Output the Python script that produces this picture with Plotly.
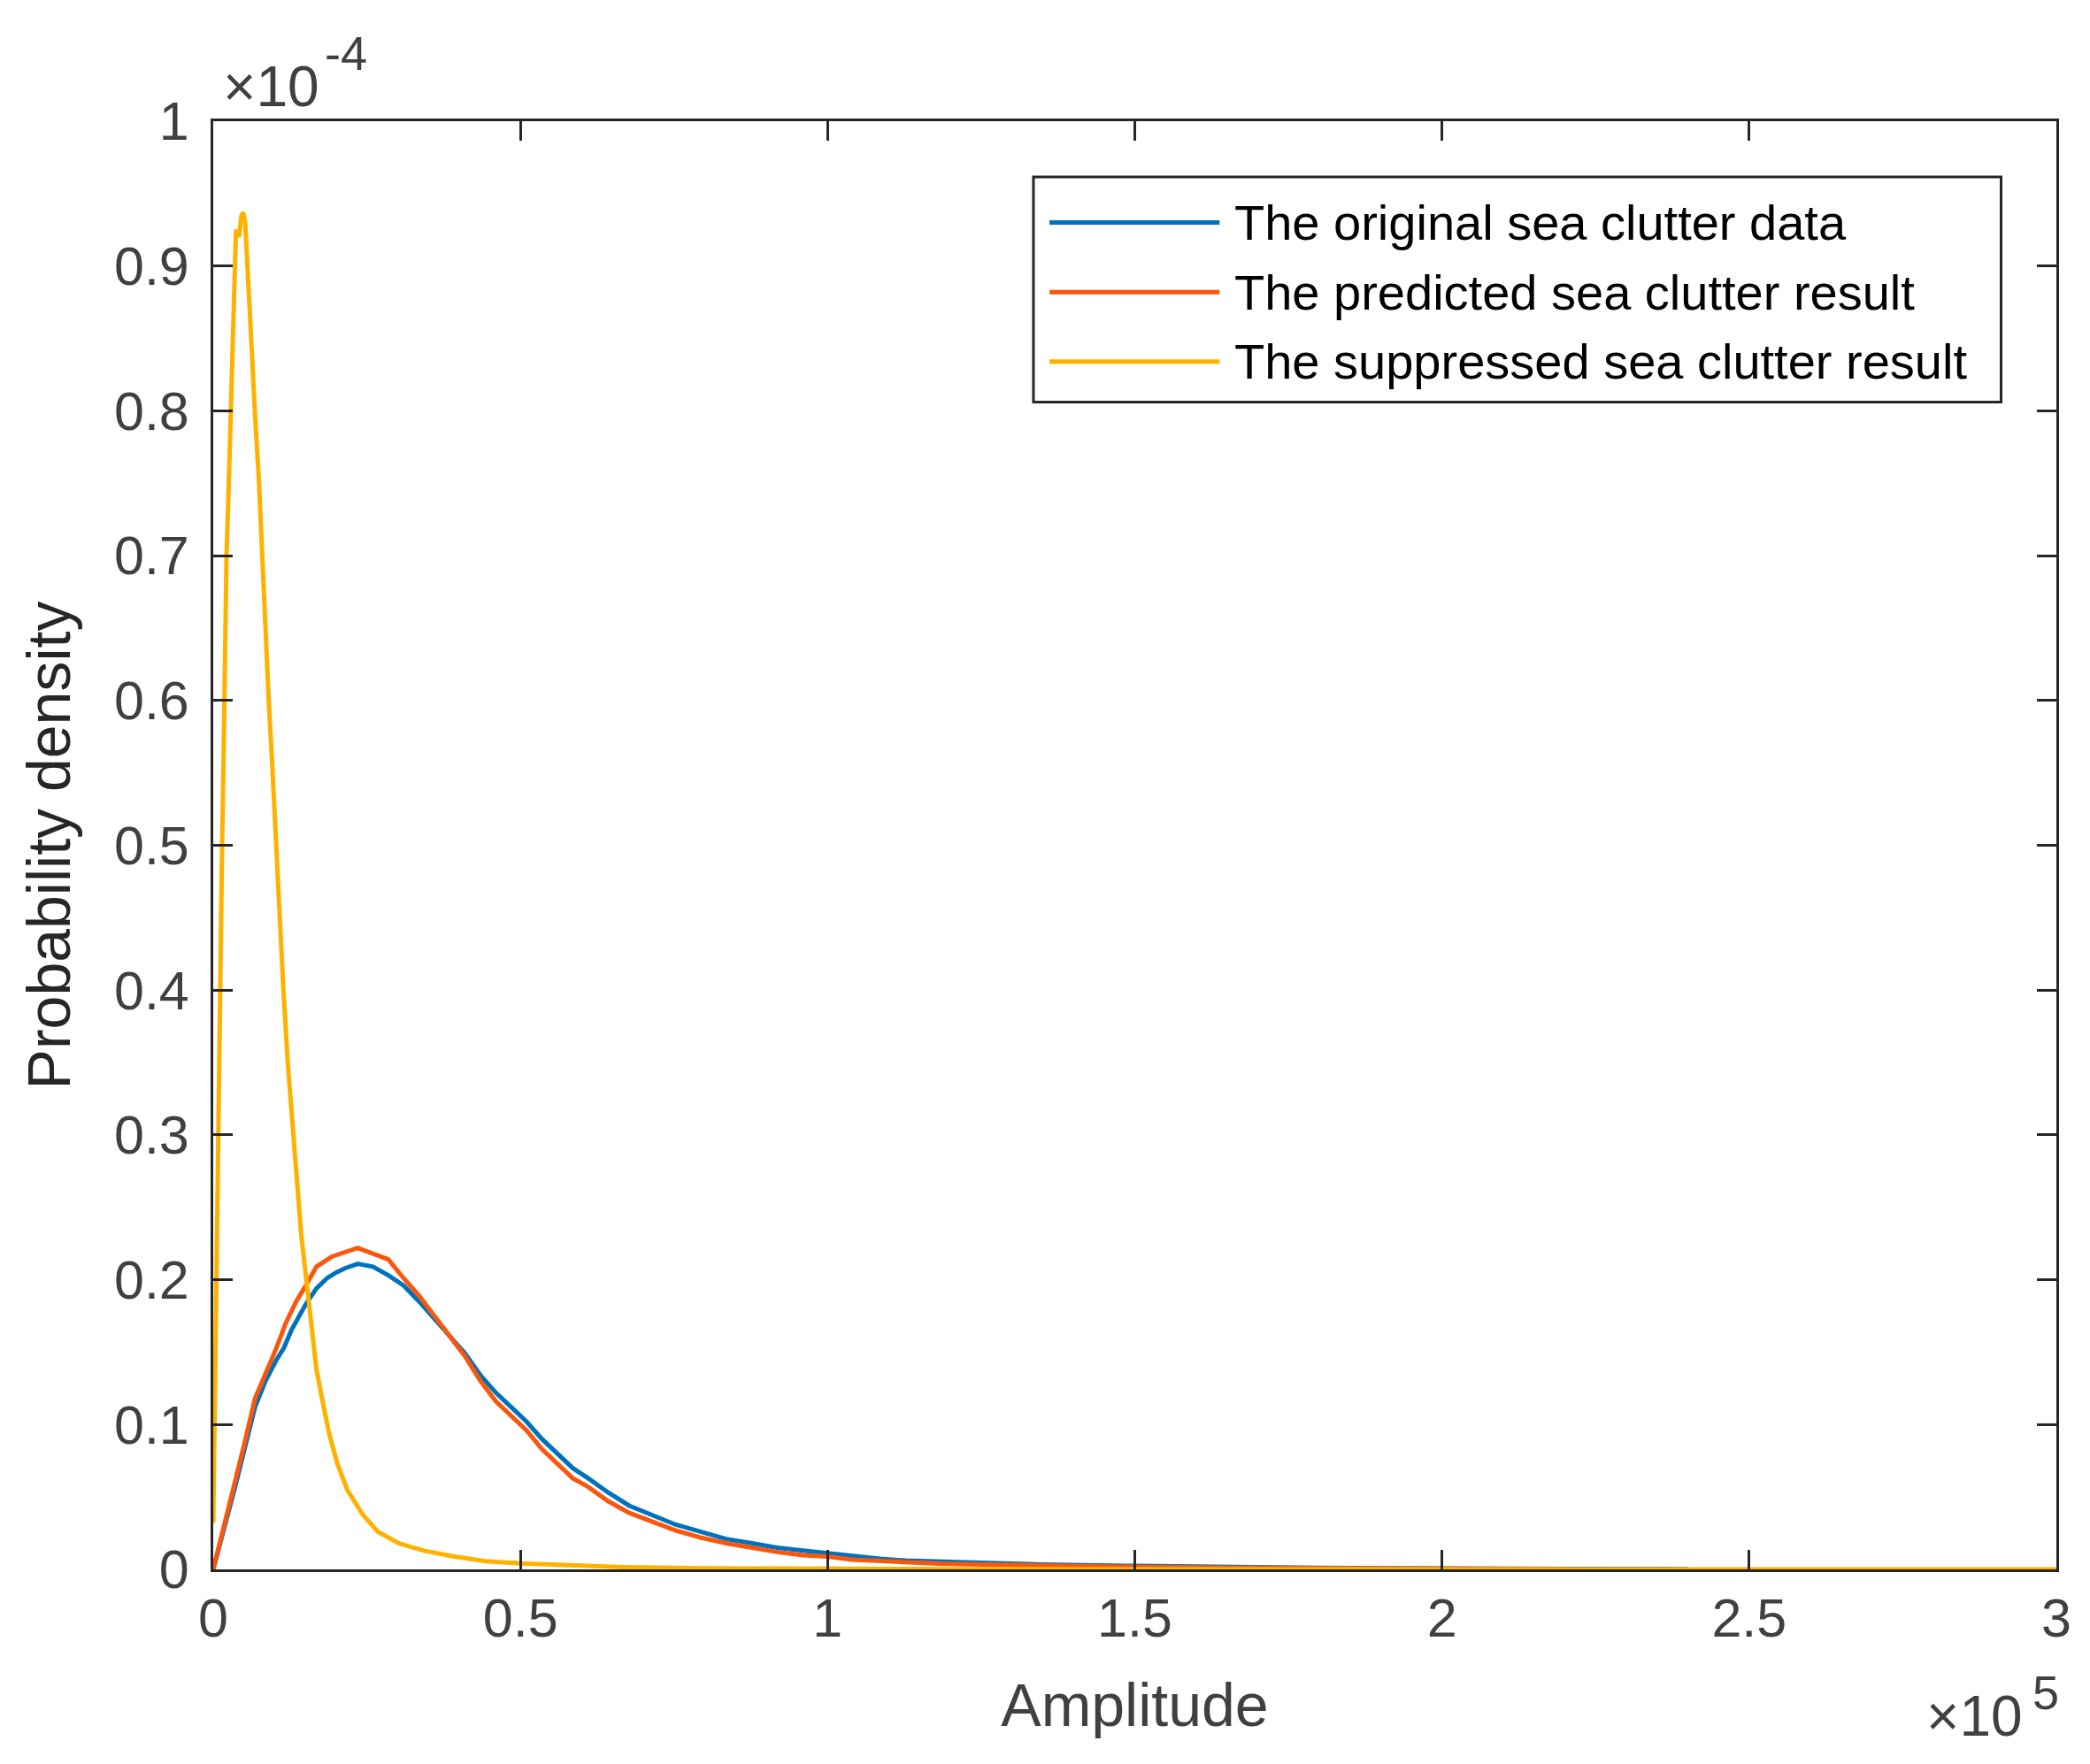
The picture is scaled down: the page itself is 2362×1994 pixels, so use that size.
import plotly.graph_objects as go

# ---------------- data (amplitude in units of 1e5, density in units of 1e-4) ----------------
series_names = [
    "The original sea clutter data",
    "The predicted sea clutter result",
    "The suppressed sea clutter result",
]
series_colors = ["#0072BD", "#FA560C", "#FFB100"]

amp_original = [0, 0.018, 0.035, 0.052, 0.068, 0.085, 0.102, 0.115, 0.127, 0.14, 0.152, 0.168,
                0.185, 0.2, 0.215, 0.235, 0.26, 0.285, 0.31, 0.335, 0.36, 0.385, 0.41, 0.435,
                0.46, 0.485, 0.51, 0.535, 0.56, 0.585, 0.61, 0.643, 0.677, 0.71, 0.752, 0.793,
                0.835, 0.877, 0.918, 0.96, 1.0, 1.04, 1.085, 1.127, 1.18, 1.25, 1.35, 1.5,
                1.65, 1.8, 2.0, 2.2, 2.4]
pdf_original = [0, 0.028, 0.056, 0.085, 0.112, 0.13, 0.144, 0.153, 0.165, 0.175, 0.184, 0.194,
                0.201, 0.205, 0.208, 0.211, 0.209, 0.203, 0.196, 0.185, 0.173, 0.161, 0.149, 0.134,
                0.122, 0.112, 0.102, 0.090, 0.080, 0.070, 0.063, 0.053, 0.044, 0.038, 0.031, 0.026,
                0.021, 0.018, 0.015, 0.013, 0.011, 0.0088, 0.0073, 0.0061, 0.0053, 0.0043, 0.0033, 0.0024,
                0.0016, 0.0011, 0.0006, 0.0003, 0.0001]

amp_predicted = [0, 0.018, 0.035, 0.052, 0.068, 0.085, 0.102, 0.118, 0.135, 0.152, 0.168, 0.193,
                 0.218, 0.235, 0.26, 0.285, 0.31, 0.335, 0.36, 0.385, 0.41, 0.435, 0.46, 0.485,
                 0.51, 0.535, 0.56, 0.585, 0.61, 0.643, 0.677, 0.71, 0.752, 0.793, 0.835, 0.877,
                 0.918, 0.96, 1.0, 1.04, 1.085, 1.127, 1.18, 1.25, 1.35, 1.5, 1.65, 1.8, 2.0, 2.2]
pdf_predicted = [0, 0.030, 0.060, 0.089, 0.118, 0.135, 0.152, 0.170, 0.185, 0.197, 0.209, 0.216,
                 0.220, 0.222, 0.218, 0.214, 0.201, 0.189, 0.175, 0.161, 0.147, 0.130, 0.116, 0.106,
                 0.096, 0.083, 0.073, 0.063, 0.057, 0.047, 0.039, 0.034, 0.027, 0.022, 0.018, 0.015,
                 0.012, 0.0098, 0.0088, 0.0067, 0.0057, 0.0047, 0.0040, 0.0033, 0.0025, 0.0018, 0.0012,
                 0.0008, 0.0004, 0.0001]

amp_suppressed = [0, 0.0024, 0.0038, 0.0055, 0.0077, 0.0091, 0.011, 0.0125, 0.0144, 0.0168, 0.0178,
                  0.0197, 0.0216, 0.0254, 0.0288, 0.0302, 0.0340, 0.0370, 0.042, 0.046, 0.049, 0.052,
                  0.0557, 0.063, 0.0677, 0.0744, 0.0792, 0.0855, 0.0903, 0.0956, 0.1023, 0.108,
                  0.1142, 0.1214, 0.1296, 0.136, 0.143, 0.152, 0.16, 0.168, 0.177, 0.189, 0.202,
                  0.218, 0.243, 0.268, 0.302, 0.343, 0.393, 0.443, 0.502, 0.585, 0.668, 0.793, 0.96,
                  1.2, 1.6, 2.0, 2.5, 3.0]
pdf_suppressed = [0.032, 0.111, 0.2, 0.25, 0.3, 0.349, 0.4, 0.452, 0.5, 0.559, 0.6,
                  0.649, 0.7, 0.751, 0.8, 0.832, 0.90, 0.925, 0.92, 0.935, 0.937, 0.93,
                  0.90, 0.832, 0.8, 0.751, 0.7, 0.649, 0.6, 0.559, 0.5, 0.452,
                  0.4, 0.349, 0.3, 0.27, 0.232, 0.196, 0.165, 0.138, 0.118, 0.093, 0.073,
                  0.055, 0.038, 0.026, 0.018, 0.0129, 0.0088, 0.0057, 0.0041, 0.0027, 0.0016, 0.0008,
                  0.0004, 0.0002, 0.0001, 0, 0, 0]

x_tickvals = [0, 0.5, 1, 1.5, 2, 2.5, 3]
x_ticktext = ["0", "0.5", "1", "1.5", "2", "2.5", "3"]
y_tickvals = [0, 0.1, 0.2, 0.3, 0.4, 0.5, 0.6, 0.7, 0.8, 0.9, 1]
y_ticktext = ["0", "0.1", "0.2", "0.3", "0.4", "0.5", "0.6", "0.7", "0.8", "0.9", "1"]

xs = [amp_original, amp_predicted, amp_suppressed]
ys = [pdf_original, pdf_predicted, pdf_suppressed]

FONT = "Liberation Sans, Arial, Helvetica, sans-serif"
AX = "#262626"
TXT = "#404040"
LW = 5

fig = go.Figure()
for x, y, name, col in zip(xs, ys, series_names, series_colors):
    fig.add_trace(go.Scatter(x=x, y=y, mode="lines", name=name,
                             line=dict(color=col, width=LW), showlegend=False))

W, H = 2362, 1994
L, R, T, B = 233, 46, 129, 228

fig.update_layout(
    width=W, height=H,
    margin=dict(l=L, r=R, t=T, b=B, autoexpand=False),
    paper_bgcolor="white", plot_bgcolor="white",
    font=dict(family=FONT, size=61, color=TXT),
)
fig.update_xaxes(range=[0, 3], tickvals=x_tickvals, ticktext=x_ticktext,
                 showgrid=False, zeroline=False, showline=True, linecolor=AX, linewidth=3,
                 mirror="ticks", ticks="inside", ticklen=22, tickwidth=3, tickcolor=AX,
                 tickfont=dict(size=61, color=TXT),
                 title=dict(text="Amplitude", font=dict(size=68, color=TXT), standoff=42))
fig.update_yaxes(range=[0, 1], tickvals=y_tickvals, ticktext=y_ticktext,
                 showgrid=False, zeroline=False, showline=True, linecolor=AX, linewidth=3,
                 mirror="ticks", ticks="inside", ticklen=22, tickwidth=3, tickcolor=AX,
                 tickfont=dict(size=61, color=TXT), ticklabelstandoff=12,
                 title=dict(text="Probability density", font=dict(size=68, color=AX), standoff=28))

# exponent labels (MATLAB style)
fig.add_annotation(text="×10", xref="paper", yref="paper", x=0.0043, y=1.0238,
                   xanchor="left", yanchor="middle", showarrow=False,
                   font=dict(size=64, color=TXT, family=FONT))
fig.add_annotation(text="-4", xref="paper", yref="paper", x=0.0595, y=1.047,
                   xanchor="left", yanchor="middle", showarrow=False,
                   font=dict(size=54, color=TXT, family=FONT))
fig.add_annotation(text="×10", xref="paper", yref="paper", x=0.9827, y=-0.1014,
                   xanchor="right", yanchor="middle", showarrow=False,
                   font=dict(size=64, color=TXT, family=FONT))
fig.add_annotation(text="5", xref="paper", yref="paper", x=0.9862, y=-0.0849,
                   xanchor="left", yanchor="middle", showarrow=False,
                   font=dict(size=54, color=TXT, family=FONT))

# legend drawn as a MATLAB-style box
lx0, lx1, ly0, ly1 = 0.445, 0.970, 0.806, 0.9615
fig.add_shape(type="rect", xref="paper", yref="paper", x0=lx0, x1=lx1, y0=ly0, y1=ly1,
              line=dict(color=AX, width=3), fillcolor="white", layer="above")
rows = [0.930, 0.882, 0.834]
for yy, name, col in zip(rows, series_names, series_colors):
    fig.add_shape(type="line", xref="paper", yref="paper", x0=0.4537, x1=0.546, y0=yy, y1=yy,
                  line=dict(color=col, width=LW), layer="above")
    fig.add_annotation(text=name, xref="paper", yref="paper", x=0.553, y=yy,
                       xanchor="left", yanchor="middle", showarrow=False,
                       font=dict(size=56, color="#000000", family=FONT))

fig.write_html("out.html")
